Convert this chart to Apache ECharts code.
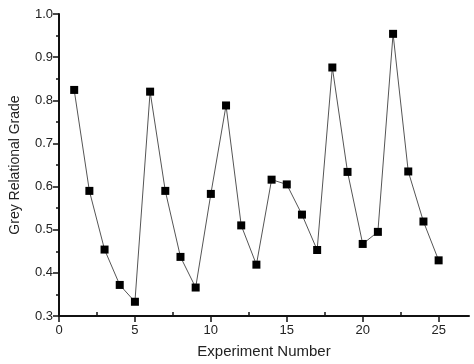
<!DOCTYPE html>
<html><head><meta charset="utf-8">
<script src="https://cdn.jsdelivr.net/npm/echarts@6/dist/echarts.min.js"></script>
<style>html,body{margin:0;padding:0;background:#fff}#c{width:474px;height:364px}</style>
</head><body><div id="c"></div>
<script>
const experiments = [1,2,3,4,5,6,7,8,9,10,11,12,13,14,15,16,17,18,19,20,21,22,23,24,25];
const greyGrade = [0.824,0.590,0.454,0.372,0.333,0.820,0.590,0.437,0.366,0.583,0.788,0.510,0.419,0.616,0.605,0.535,0.453,0.876,0.634,0.467,0.495,0.954,0.635,0.519,0.429];
const xMinorTicks = [2.5,7.5,12.5,17.5,22.5];
const font = 'Liberation Sans, Arial, sans-serif';
const chart = echarts.init(document.getElementById('c'));
chart.setOption({
  animation:false,
  grid:{left:58,right:5,top:14,bottom:47},
  xAxis:[{
    type:'value',min:0,max:27,interval:5,
    name:'Experiment Number',nameLocation:'middle',nameGap:28,
    nameTextStyle:{fontFamily:font,fontSize:15,color:'#222'},
    axisLine:{show:true,lineStyle:{color:'#111',width:2}},
    axisTick:{show:true,length:6,lineStyle:{color:'#111',width:1.5}},
    axisLabel:{fontFamily:font,fontSize:13,color:'#222',margin:8,showMaxLabel:false},
    splitLine:{show:false}
  },{
    type:'value',min:0,max:27,position:'bottom',
    axisLine:{show:false},
    axisTick:{show:true,inside:true,length:4,customValues:xMinorTicks,lineStyle:{color:'#111',width:1.5}},
    axisLabel:{show:false},splitLine:{show:false}
  }],
  yAxis:{
    type:'value',min:0.3,max:1.0,interval:0.1,
    name:'Grey Relational Grade',nameLocation:'middle',nameGap:37,
    nameTextStyle:{fontFamily:font,fontSize:14,color:'#222'},
    axisLine:{show:true,lineStyle:{color:'#111',width:2}},
    axisTick:{show:true,length:6,lineStyle:{color:'#111',width:1.5}},
    minorTick:{show:true,splitNumber:2,length:3,lineStyle:{color:'#111',width:1.5}},
    axisLabel:{fontFamily:font,fontSize:13,color:'#222',margin:6,formatter:v=>v.toFixed(1)},
    splitLine:{show:false}
  },
  series:[{
    type:'line',
    data:experiments.map((x,i)=>[x,greyGrade[i]]),
    symbol:'rect',symbolSize:8,
    itemStyle:{color:'#000'},
    lineStyle:{color:'#555',width:1}
  }]
});
</script></body></html>
